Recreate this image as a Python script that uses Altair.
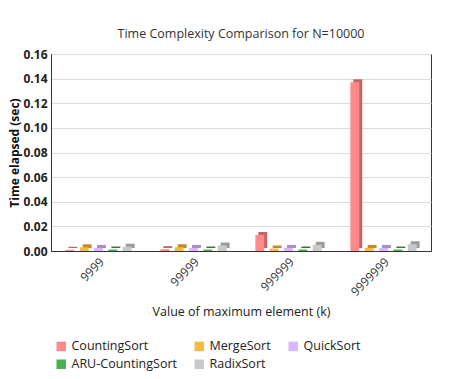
import altair as alt
import pandas as pd

categories = ["9999", "99999", "999999", "9999999"]
series = ["CountingSort", "MergeSort", "QuickSort", "ARU-CountingSort", "RadixSort"]
counting = [0.001, 0.0015, 0.013, 0.137]
merge = [0.003, 0.003, 0.002, 0.0025]
quick = [0.0025, 0.0025, 0.0025, 0.0025]
aru = [0.0012, 0.0012, 0.0012, 0.0012]
radix = [0.0035, 0.0045, 0.005, 0.0055]
colors = ["#FF8A8A", "#F7B93F", "#D9B6FF", "#4CAF50", "#C9C9C9"]
dark = ["#C46464", "#C48A22", "#A98BCB", "#2F7D33", "#9C9C9C"]

vals = [counting, merge, quick, aru, radix]
rows = []
for s, v in zip(series, vals):
    for c, t in zip(categories, v):
        rows.append({"k": c, "algo": s, "time": t})
df = pd.DataFrame(rows)

W, H = 380, 197
band = W / len(categories)

font = "Open Sans"
xenc = alt.X("k:N", sort=categories, title="Value of maximum element (k)",
             scale=alt.Scale(paddingInner=0, paddingOuter=0),
             axis=alt.Axis(labelAngle=-45, labelFontSize=12, labelColor="#333",
                           labelFont=font, ticks=False, labelPadding=5,
                           titleFont=font, titleFontSize=12.5, titleFontWeight="normal",
                           titleColor="#222", domainColor="#333", titlePadding=8))
yenc = alt.Y("time:Q", title="Time elapsed (sec)",
             scale=alt.Scale(domain=[0, 0.16], nice=False),
             axis=alt.Axis(values=[0, 0.02, 0.04, 0.06, 0.08, 0.1, 0.12, 0.14, 0.16],
                           format=".2f", labelFont=font, labelFontSize=12,
                           labelFontWeight="bold", labelColor="#222", ticks=False,
                           titleFont=font, titleFontSize=12, titleFontWeight="bold",
                           titleColor="#111", gridColor="#dcdcdc", domainColor="#333",
                           labelPadding=4, titlePadding=1))


def xoff(shift):
    return alt.XOffset("algo:N", sort=series,
                       scale=alt.Scale(paddingInner=0.38, paddingOuter=1.0,
                                       range=[shift, band + shift]))


back = alt.Chart(df).mark_bar(yOffset=-3, y2Offset=-3).encode(
    x=xenc, y=yenc, xOffset=xoff(3),
    color=alt.Color("algo:N", sort=series,
                    scale=alt.Scale(domain=series, range=dark), legend=None),
)
front = alt.Chart(df).mark_bar().encode(
    x=xenc, y=yenc, xOffset=xoff(0),
    color=alt.Color("algo:N", sort=series, title=None,
                    scale=alt.Scale(domain=series, range=colors),
                    legend=alt.Legend(orient="bottom", direction="horizontal", columns=3,
                                      symbolType="square", symbolSize=90,
                                      symbolStrokeWidth=0, labelFont=font,
                                      labelFontSize=12.5, labelColor="#222",
                                      columnPadding=16, rowPadding=5, offset=17,
                                      labelLimit=200, padding=4)),
)

chart = alt.layer(back, front).resolve_scale(color="independent", xOffset="independent").properties(
    width=W, height=H,
    title=alt.Title("Time Complexity Comparison for N=10000", font=font,
                    fontSize=12.5, fontWeight="normal", color="#333", offset=8),
    padding={"left": 0, "top": 19, "right": 5, "bottom": 0},
).configure_view(stroke="#333", strokeWidth=1)

chart.save("out.html", embed_options={"renderer": "svg", "actions": False})
